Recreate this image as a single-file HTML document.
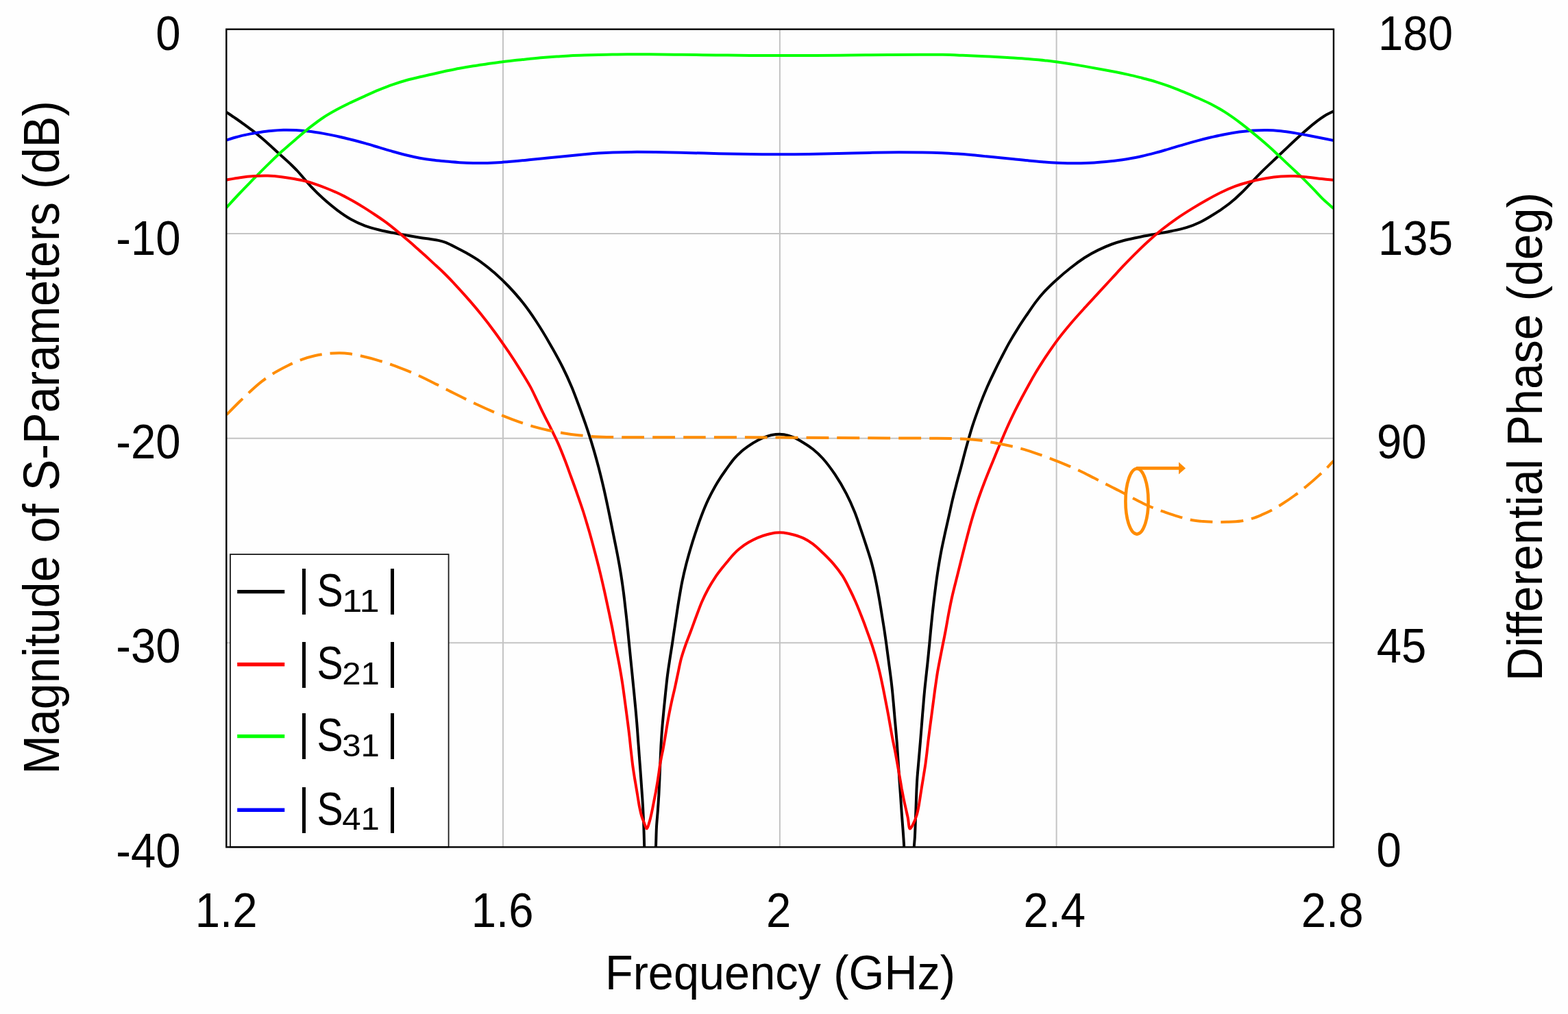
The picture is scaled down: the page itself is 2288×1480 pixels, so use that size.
<!DOCTYPE html><html><head><meta charset="utf-8"><title>S-Parameters</title><style>html,body{margin:0;padding:0;background:#fff;}svg{display:block;}</style></head><body>
<svg width="2288" height="1480" viewBox="0 0 2288 1480">
<rect x="0" y="0" width="2288" height="1480" fill="#fefefe"/>
<defs><clipPath id="pc"><rect x="330.3" y="42.7" width="1615.7" height="1193.7"/></clipPath></defs>
<path d="M734.0,42.7V1236.4M1137.9,42.7V1236.4M1541.6,42.7V1236.4M330.3,341.0H1946.0M330.3,639.7H1946.0M330.3,938.3H1946.0" stroke="#c4c4c4" stroke-width="2" fill="none"/>
<rect x="336" y="809.1" width="318.6" height="427.3" fill="#fff" stroke="#1a1a1a" stroke-width="1.8"/>
<g clip-path="url(#pc)" fill="none" stroke-width="4" stroke-linejoin="round">
<path d="M330.0,163.4 C332.2,164.9 339.0,169.4 343.5,172.5 C348.0,175.6 352.5,178.8 357.0,182.1 C361.5,185.4 366.0,188.6 370.5,192.1 C375.1,195.7 379.6,199.5 384.0,203.3 C388.6,207.2 393.0,211.4 397.6,215.4 C402.1,219.5 406.6,223.7 411.0,227.7 C415.3,231.5 419.6,235.3 423.6,239.1 C427.2,242.6 430.7,246.0 434.0,249.5 C437.2,253.0 439.9,256.3 443.1,260.0 C446.8,264.1 450.3,268.6 454.6,273.2 C459.7,278.6 465.8,284.6 471.9,290.1 C478.3,295.8 485.3,301.7 492.2,306.8 C498.8,311.7 505.5,316.4 512.4,320.2 C519.0,323.9 525.8,327.0 532.7,329.6 C539.4,332.1 546.2,333.8 553.0,335.5 C559.7,337.2 566.5,338.4 573.3,339.8 C580.2,341.1 587.4,342.4 594.2,343.6 C600.9,344.8 607.7,346.0 613.7,347.0 C618.9,347.8 623.7,348.4 628.2,349.1 C632.3,349.7 636.0,350.1 639.6,350.9 C643.1,351.6 646.4,352.5 649.5,353.6 C652.6,354.7 655.3,356.2 658.4,357.6 C661.7,359.3 665.1,361.1 668.8,363.0 C673.2,365.3 678.1,367.8 683.1,370.7 C688.9,374.1 695.4,377.9 701.6,382.3 C708.4,387.1 715.3,392.7 721.9,398.5 C728.8,404.6 735.6,411.1 742.2,418.0 C749.1,425.3 755.9,432.9 762.4,441.1 C769.4,449.9 776.1,459.5 782.7,469.5 C789.7,480.1 796.6,491.7 803.0,502.9 C809.3,513.9 815.6,525.2 821.0,536.0 C826.1,546.1 830.5,555.9 834.6,565.7 C838.5,575.2 841.9,584.6 845.4,594.0 C848.8,603.3 852.1,612.3 855.3,621.7 C858.5,631.2 861.7,640.8 864.6,650.6 C867.7,660.7 870.6,671.3 873.3,681.6 C876.0,691.9 878.5,702.3 880.9,712.5 C883.2,722.5 885.3,732.4 887.4,742.4 C889.5,752.4 891.5,762.3 893.5,772.3 C895.5,782.4 897.6,792.6 899.6,802.7 C901.6,812.8 903.5,822.8 905.2,833.1 C907.0,843.6 908.5,854.5 909.9,865.0 C911.2,875.4 912.4,886.3 913.5,896.0 C914.5,904.5 915.3,912.5 916.1,920.3 C916.8,927.3 917.4,933.8 918.1,940.5 C918.8,947.3 919.4,954.0 920.1,960.8 C920.8,967.6 921.5,974.3 922.2,981.1 C922.9,987.9 923.5,994.6 924.2,1001.4 C924.9,1008.1 925.6,1014.9 926.2,1021.6 C926.9,1028.4 927.5,1035.1 928.1,1041.9 C928.7,1048.7 929.3,1055.4 929.8,1062.2 C930.3,1069.1 930.8,1076.0 931.3,1083.0 C931.9,1090.2 932.4,1097.3 932.9,1104.6 C933.5,1111.9 934.0,1119.2 934.6,1126.8 C935.2,1134.6 935.8,1142.7 936.3,1150.8 C936.9,1159.1 937.5,1167.7 938.0,1176.1 C938.4,1184.6 938.8,1192.4 939.2,1201.5 C939.6,1212.1 939.9,1225.5 940.2,1236.0 C940.5,1244.7 937.3,1256.5 941.0,1260.0 C943.9,1262.8 953.1,1262.8 956.0,1260.0 C959.7,1256.5 956.7,1244.4 957.0,1236.0 C957.4,1226.7 957.5,1215.8 958.0,1206.5 C958.5,1198.1 959.3,1190.4 959.9,1182.5 C960.4,1174.8 960.9,1167.4 961.4,1159.7 C961.8,1151.8 962.2,1143.7 962.5,1135.6 C962.8,1127.6 963.1,1119.5 963.5,1111.5 C963.8,1103.7 964.1,1096.0 964.5,1088.1 C965.0,1080.2 965.5,1071.9 966.1,1064.1 C966.7,1056.5 967.4,1049.1 968.1,1041.9 C968.7,1035.0 969.4,1028.4 970.1,1021.6 C970.8,1014.9 971.4,1008.1 972.2,1001.4 C972.9,994.6 973.6,987.9 974.6,981.1 C975.5,974.3 976.6,967.6 977.6,960.8 C978.6,954.0 979.8,947.3 980.8,940.5 C981.8,933.8 982.8,927.1 983.8,920.3 C984.9,913.1 986.0,906.0 987.1,898.5 C988.3,890.6 989.5,882.4 990.9,874.2 C992.3,865.8 993.7,857.2 995.4,848.8 C997.1,840.6 999.0,832.4 1001.0,824.5 C1002.9,817.0 1004.9,810.0 1007.0,802.7 C1009.2,795.2 1011.5,787.7 1014.1,779.9 C1016.9,771.4 1020.0,762.1 1023.3,753.5 C1026.5,745.1 1030.1,736.3 1033.7,728.7 C1036.9,721.9 1040.4,715.4 1043.6,709.7 C1046.3,704.9 1048.9,700.8 1051.5,696.8 C1053.8,693.3 1056.0,690.3 1058.3,687.0 C1060.5,683.8 1062.7,680.6 1065.0,677.6 C1067.2,674.6 1069.3,671.6 1071.8,668.8 C1074.3,665.9 1077.1,663.1 1080.2,660.4 C1083.7,657.2 1087.9,654.1 1092.0,651.2 C1096.3,648.2 1101.0,645.2 1105.6,642.8 C1110.0,640.4 1114.6,638.3 1119.1,636.9 C1123.3,635.5 1127.6,634.5 1131.8,634.1 C1135.9,633.7 1139.8,633.7 1143.9,634.3 C1148.3,635.0 1152.9,636.4 1157.5,638.2 C1162.4,640.2 1167.6,643.3 1172.4,646.2 C1177.2,649.0 1181.6,651.9 1186.1,655.5 C1191.0,659.4 1195.6,663.6 1200.5,669.0 C1206.3,675.5 1212.6,683.9 1218.2,692.2 C1224.2,701.1 1230.1,711.2 1235.0,720.6 C1239.6,729.4 1243.4,738.1 1246.9,746.8 C1250.3,755.2 1252.9,763.5 1255.8,771.8 C1258.6,779.9 1261.3,788.0 1263.9,796.1 C1266.5,804.2 1269.2,812.1 1271.5,820.4 C1273.9,829.0 1276.0,837.9 1277.8,846.8 C1279.8,855.7 1281.3,864.9 1282.9,873.7 C1284.4,882.1 1285.7,890.5 1287.0,898.5 C1288.2,906.0 1289.4,913.1 1290.5,920.3 C1291.5,927.1 1292.5,933.8 1293.4,940.5 C1294.3,947.3 1295.2,954.0 1296.1,960.8 C1297.0,967.6 1297.9,974.3 1298.8,981.1 C1299.7,987.9 1300.6,994.6 1301.3,1001.4 C1302.1,1008.1 1302.7,1014.9 1303.3,1021.6 C1304.0,1028.4 1304.5,1035.1 1305.1,1041.9 C1305.6,1048.7 1306.3,1055.3 1306.9,1062.2 C1307.5,1069.4 1308.2,1076.7 1308.8,1084.3 C1309.4,1092.5 1309.9,1101.2 1310.5,1109.7 C1311.1,1118.2 1311.6,1127.0 1312.2,1135.6 C1312.8,1144.1 1313.4,1152.5 1314.0,1160.9 C1314.6,1169.4 1315.1,1177.8 1315.7,1186.3 C1316.3,1194.7 1317.0,1203.2 1317.6,1211.6 C1318.2,1219.8 1318.8,1227.9 1319.2,1236.0 C1319.6,1244.0 1316.5,1256.6 1320.0,1260.0 C1322.6,1262.5 1330.4,1262.5 1333.0,1260.0 C1336.5,1256.6 1333.4,1243.0 1333.8,1236.0 C1334.1,1230.6 1334.6,1227.2 1334.9,1221.8 C1335.3,1214.6 1335.6,1204.9 1335.9,1196.4 C1336.2,1188.0 1336.5,1179.3 1336.8,1171.1 C1337.1,1163.3 1337.3,1155.4 1337.7,1148.2 C1338.0,1142.0 1338.3,1136.2 1338.8,1130.5 C1339.2,1125.2 1339.7,1120.4 1340.1,1115.3 C1340.6,1110.0 1341.0,1104.9 1341.5,1099.4 C1342.0,1093.7 1342.5,1087.8 1343.0,1081.8 C1343.5,1075.4 1344.0,1068.8 1344.6,1062.2 C1345.1,1055.5 1345.7,1048.7 1346.2,1041.9 C1346.8,1035.1 1347.4,1028.4 1347.9,1021.6 C1348.5,1014.9 1349.1,1008.1 1349.8,1001.4 C1350.5,994.6 1351.3,987.9 1352.0,981.1 C1352.8,974.3 1353.5,967.6 1354.2,960.8 C1354.9,954.0 1355.5,947.3 1356.2,940.5 C1356.8,933.8 1357.4,927.1 1358.1,920.3 C1358.8,913.1 1359.5,906.2 1360.3,898.5 C1361.2,889.9 1362.2,880.7 1363.4,871.2 C1364.7,860.6 1366.2,848.8 1367.8,837.7 C1369.5,826.8 1371.3,815.6 1373.3,805.2 C1375.1,795.5 1377.3,786.3 1379.2,777.2 C1381.1,768.5 1383.1,760.1 1384.9,751.9 C1386.6,744.3 1388.1,737.1 1389.8,729.9 C1391.5,722.6 1393.2,715.8 1395.2,708.4 C1397.2,700.4 1399.6,692.1 1401.9,683.5 C1404.4,674.2 1406.8,664.4 1409.5,654.5 C1412.4,644.1 1415.5,633.0 1418.8,622.4 C1422.2,611.9 1426.1,601.1 1429.8,591.1 C1433.3,581.9 1436.9,573.1 1440.5,564.8 C1443.9,557.1 1447.2,550.1 1450.7,543.0 C1454.0,536.1 1457.3,529.5 1460.8,522.7 C1464.4,515.7 1468.0,508.6 1472.0,501.4 C1476.2,493.9 1481.0,486.0 1485.7,478.6 C1490.3,471.3 1495.3,464.0 1499.8,457.3 C1503.9,451.4 1507.4,446.0 1511.5,440.6 C1515.5,435.3 1519.4,430.5 1524.2,425.4 C1529.4,419.7 1535.7,413.8 1541.9,408.2 C1548.3,402.4 1555.3,396.4 1562.2,391.0 C1568.8,385.7 1575.5,380.7 1582.4,376.2 C1589.1,372.0 1595.9,368.2 1602.7,364.9 C1609.2,361.7 1615.7,358.9 1622.2,356.5 C1628.4,354.2 1634.4,352.4 1640.8,350.7 C1647.5,349.0 1654.4,347.6 1661.6,346.2 C1669.3,344.6 1677.6,343.1 1685.6,341.6 C1693.6,340.1 1701.9,338.9 1709.7,337.2 C1717.1,335.7 1724.3,334.3 1731.2,332.1 C1737.8,330.1 1744.2,327.6 1750.2,324.7 C1756.0,322.0 1761.4,318.7 1766.7,315.5 C1771.7,312.5 1776.4,309.5 1781.2,306.3 C1786.0,303.0 1790.8,299.7 1795.6,295.8 C1800.9,291.5 1806.4,286.5 1811.5,281.5 C1816.7,276.5 1821.6,271.1 1826.5,265.9 C1831.4,260.8 1835.8,256.0 1840.9,250.8 C1846.6,245.2 1852.7,239.5 1858.9,233.7 C1865.4,227.5 1872.4,220.9 1879.1,214.6 C1885.9,208.3 1892.7,201.8 1899.4,195.8 C1905.7,190.2 1912.1,184.4 1918.2,179.6 C1923.4,175.5 1928.4,171.7 1933.4,168.7 C1937.7,166.1 1943.9,163.4 1946.0,162.4" stroke="#000"/>
<path d="M330.0,204.8 C332.2,204.1 339.0,201.8 343.5,200.5 C348.0,199.3 352.5,198.1 357.0,197.1 C361.5,196.1 366.0,195.2 370.5,194.5 C375.0,193.7 379.5,193.0 384.0,192.3 C388.6,191.7 393.2,191.1 398.0,190.7 C403.0,190.3 408.2,190.0 413.6,189.8 C419.4,189.7 425.6,189.8 431.8,190.1 C438.2,190.4 445.0,191.0 451.6,191.8 C458.4,192.5 465.2,193.7 471.9,194.9 C478.7,196.1 485.4,197.4 492.2,198.9 C498.9,200.4 505.7,201.9 512.4,203.7 C519.2,205.4 526.0,207.3 532.7,209.2 C539.5,211.1 546.2,213.2 553.0,215.2 C559.8,217.2 566.5,219.3 573.3,221.2 C579.9,223.0 586.7,224.9 593.3,226.5 C599.7,228.1 606.1,229.5 612.5,230.7 C618.8,231.8 625.0,232.7 631.3,233.5 C637.6,234.3 644.0,234.9 650.5,235.6 C657.1,236.2 663.8,236.7 670.5,237.2 C677.3,237.6 684.0,237.9 690.8,238.0 C697.6,238.1 704.3,238.1 711.1,237.9 C717.9,237.7 724.6,237.4 731.4,236.9 C738.1,236.5 744.9,235.9 751.6,235.3 C758.4,234.7 765.1,234.0 771.9,233.3 C778.7,232.6 785.4,232.0 792.2,231.3 C798.9,230.6 805.7,229.9 812.4,229.3 C819.2,228.6 825.9,227.9 832.7,227.2 C839.5,226.6 846.2,225.9 853.0,225.3 C859.8,224.7 866.4,224.1 873.3,223.6 C880.3,223.1 887.1,222.7 894.5,222.4 C902.8,222.1 911.3,221.9 920.6,221.9 C931.6,221.8 943.6,221.9 956.2,222.1 C970.2,222.3 985.7,222.7 1000.9,223.0 C1016.7,223.3 1033.3,223.8 1049.2,224.2 C1064.9,224.5 1080.6,224.8 1095.8,225.0 C1110.3,225.2 1124.4,225.3 1138.6,225.2 C1152.6,225.2 1166.1,225.1 1180.1,224.9 C1194.5,224.6 1209.0,224.3 1223.6,223.9 C1238.6,223.6 1254.2,223.2 1269.1,222.9 C1283.5,222.6 1298.0,222.3 1311.4,222.2 C1323.5,222.2 1335.2,222.2 1346.1,222.4 C1356.0,222.5 1365.3,222.8 1374.3,223.2 C1382.5,223.6 1390.3,224.1 1397.9,224.6 C1405.2,225.1 1412.0,225.7 1419.0,226.3 C1425.8,226.9 1432.5,227.6 1439.3,228.3 C1446.0,228.9 1452.8,229.6 1459.5,230.3 C1466.3,231.0 1473.0,231.6 1479.8,232.3 C1486.6,233.0 1493.3,233.7 1500.1,234.3 C1507.0,235.0 1513.8,235.7 1520.9,236.2 C1528.4,236.8 1536.1,237.3 1544.0,237.7 C1552.4,238.0 1561.3,238.2 1570.0,238.2 C1578.8,238.1 1587.7,237.9 1596.4,237.4 C1604.7,237.0 1612.9,236.2 1621.0,235.3 C1628.8,234.5 1636.5,233.4 1644.1,232.2 C1651.5,230.9 1658.8,229.6 1665.9,228.0 C1672.9,226.5 1679.7,224.7 1686.5,222.9 C1693.3,221.1 1700.1,219.0 1706.8,217.1 C1713.6,215.1 1720.3,213.0 1727.1,211.1 C1733.8,209.1 1740.6,207.2 1747.4,205.4 C1754.1,203.6 1760.9,201.9 1767.6,200.3 C1774.4,198.8 1781.1,197.3 1787.9,196.0 C1794.6,194.7 1801.4,193.5 1808.2,192.6 C1814.9,191.7 1821.7,191.0 1828.4,190.5 C1835.2,190.1 1841.9,189.9 1848.7,190.0 C1855.5,190.1 1862.2,190.6 1869.0,191.2 C1875.8,191.9 1882.5,193.0 1889.3,194.1 C1896.0,195.2 1902.7,196.5 1909.3,197.8 C1915.7,199.0 1922.0,200.3 1928.3,201.5 C1934.3,202.7 1943.0,204.4 1946.0,205.0" stroke="#0000ff"/>
<path d="M330.0,303.3 C333.4,299.7 343.5,288.6 350.3,281.5 C357.0,274.4 363.8,267.6 370.5,260.7 C377.3,253.9 384.0,247.0 390.8,240.4 C397.5,233.8 404.3,227.3 411.1,221.1 C417.8,215.0 424.6,209.2 431.4,203.4 C438.1,197.7 444.8,191.8 451.6,186.4 C458.3,181.2 465.0,176.0 471.9,171.5 C478.5,167.1 485.4,163.3 492.2,159.6 C498.9,155.9 505.6,152.7 512.4,149.4 C519.2,146.2 525.9,143.1 532.7,140.1 C539.4,137.1 546.2,134.0 553.0,131.2 C559.7,128.4 566.5,125.7 573.3,123.4 C580.0,121.0 586.8,118.9 593.5,117.0 C600.0,115.2 606.4,113.7 612.8,112.2 C618.9,110.8 624.9,109.6 631.0,108.2 C637.4,106.8 643.8,105.3 650.3,103.8 C656.9,102.4 663.8,100.9 670.5,99.7 C677.3,98.4 684.0,97.3 690.8,96.3 C697.6,95.2 704.3,94.3 711.1,93.3 C717.9,92.4 724.6,91.4 731.4,90.6 C738.1,89.7 744.9,88.9 751.6,88.1 C758.4,87.3 765.1,86.7 771.9,86.0 C778.7,85.3 785.4,84.6 792.2,84.0 C798.9,83.4 805.7,82.9 812.4,82.5 C819.2,82.0 825.9,81.7 832.7,81.3 C839.5,81.0 846.2,80.8 853.0,80.6 C859.8,80.4 866.5,80.2 873.3,80.0 C880.0,79.8 886.7,79.6 893.5,79.5 C900.6,79.4 907.3,79.2 915.3,79.2 C925.2,79.1 936.5,79.2 948.5,79.2 C962.7,79.3 979.2,79.6 995.0,79.8 C1011.4,80.0 1028.4,80.3 1045.0,80.4 C1061.5,80.6 1078.2,80.8 1094.5,80.9 C1110.4,81.0 1125.8,81.0 1141.5,81.0 C1157.4,81.1 1173.1,81.0 1189.5,80.9 C1206.7,80.8 1224.8,80.7 1242.5,80.5 C1260.4,80.4 1279.2,80.2 1296.5,80.0 C1312.4,79.9 1328.4,79.7 1342.5,79.7 C1354.4,79.6 1364.9,79.6 1375.5,79.8 C1385.5,80.0 1394.5,80.4 1404.5,80.8 C1415.1,81.2 1426.5,81.7 1437.5,82.2 C1448.4,82.8 1459.4,83.4 1470.0,84.0 C1480.2,84.7 1490.2,85.3 1500.0,86.1 C1509.4,86.9 1518.8,87.7 1527.5,88.6 C1535.4,89.5 1542.7,90.5 1550.0,91.5 C1556.9,92.5 1563.3,93.5 1570.0,94.6 C1576.7,95.7 1583.3,96.9 1590.0,98.1 C1596.7,99.3 1603.4,100.5 1610.0,101.7 C1616.4,102.9 1622.8,104.0 1629.0,105.2 C1635.1,106.4 1641.0,107.7 1647.1,109.1 C1653.4,110.5 1659.8,112.1 1666.3,113.7 C1672.9,115.5 1679.8,117.2 1686.5,119.3 C1693.3,121.4 1700.1,123.7 1706.8,126.2 C1713.6,128.7 1720.4,131.5 1727.1,134.2 C1733.9,137.0 1740.6,139.9 1747.4,142.8 C1754.2,145.9 1760.9,148.8 1767.6,152.2 C1774.5,155.8 1781.2,159.7 1787.9,163.9 C1794.8,168.3 1801.5,173.1 1808.2,178.1 C1815.0,183.2 1821.7,188.6 1828.4,194.1 C1835.2,199.6 1842.2,205.5 1848.7,211.3 C1855.0,216.8 1861.1,222.6 1867.0,228.0 C1872.4,233.1 1877.3,237.9 1882.7,242.9 C1888.3,248.2 1894.2,253.6 1899.9,259.1 C1905.7,264.8 1911.7,271.0 1917.2,276.6 C1922.1,281.7 1926.5,286.7 1931.3,291.4 C1936.1,295.9 1943.6,302.1 1946.0,304.3" stroke="#00ff00"/>
<path d="M330.0,262.7 C333.4,262.1 343.5,260.1 350.3,259.2 C357.0,258.2 363.8,257.4 370.5,257.0 C377.3,256.6 384.1,256.5 390.8,256.6 C397.5,256.8 404.3,257.4 410.8,258.2 C417.0,258.9 423.2,259.9 429.1,261.0 C434.6,262.0 439.9,263.0 445.2,264.3 C450.4,265.6 455.4,267.1 460.4,268.8 C465.5,270.5 470.7,272.5 475.6,274.5 C480.4,276.4 485.0,278.3 489.6,280.3 C493.9,282.3 497.9,284.2 502.2,286.4 C506.8,288.8 511.5,291.3 516.2,294.0 C521.2,296.9 526.4,300.0 531.4,303.1 C536.5,306.3 541.8,309.8 546.6,313.0 C551.1,316.0 555.6,319.0 559.6,321.8 C563.0,324.3 565.9,326.4 569.0,328.9 C572.2,331.3 575.1,333.8 578.2,336.4 C581.5,339.1 585.0,342.0 588.4,344.9 C591.8,347.8 595.1,350.6 598.5,353.5 C601.9,356.4 605.1,359.3 608.6,362.4 C612.5,365.8 616.6,369.5 620.7,373.3 C625.2,377.4 630.2,382.0 634.6,386.1 C638.9,390.0 642.7,393.4 646.8,397.5 C651.4,402.0 655.8,406.5 660.9,411.8 C666.9,418.2 673.9,425.9 680.5,433.4 C687.5,441.3 694.8,449.8 701.6,458.3 C708.5,466.9 715.3,475.7 721.9,484.7 C728.6,493.8 735.2,503.4 741.6,512.7 C747.8,521.9 754.0,531.5 759.5,540.4 C764.6,548.6 769.5,556.5 773.7,564.1 C777.4,570.9 780.2,577.2 783.4,583.8 C786.6,590.3 789.5,596.9 792.9,603.6 C796.3,610.7 800.2,617.9 803.8,625.1 C807.4,632.5 811.1,639.8 814.5,647.4 C817.9,655.1 821.0,663.0 824.1,671.0 C827.3,679.1 830.2,687.5 833.2,695.8 C836.3,704.2 839.4,712.7 842.3,721.1 C845.3,729.6 848.2,737.9 851.0,746.5 C853.8,755.3 856.4,764.2 859.1,773.3 C861.9,782.9 864.6,792.9 867.2,802.7 C869.8,812.5 872.4,822.2 874.8,832.1 C877.3,842.3 879.7,852.8 882.0,863.0 C884.2,873.1 886.5,884.0 888.5,893.2 C890.2,901.1 891.7,908.2 893.1,915.2 C894.4,921.6 895.4,927.5 896.6,933.8 C897.9,940.4 899.2,947.3 900.5,954.0 C901.8,960.8 903.2,967.5 904.4,974.3 C905.6,981.1 906.8,987.8 907.8,994.6 C908.9,1001.4 909.8,1008.1 910.7,1014.9 C911.6,1021.6 912.5,1028.4 913.4,1035.1 C914.3,1041.9 915.2,1048.6 916.1,1055.4 C917.0,1062.4 917.9,1069.5 918.7,1076.7 C919.5,1084.1 920.2,1091.8 921.1,1099.0 C921.9,1105.9 922.6,1112.7 923.5,1119.1 C924.3,1124.9 925.2,1130.2 926.0,1135.6 C926.9,1140.8 927.7,1145.7 928.6,1150.8 C929.4,1155.9 930.3,1161.0 931.1,1166.0 C931.9,1170.8 932.6,1175.7 933.6,1180.1 C934.4,1184.1 935.2,1187.9 936.3,1191.4 C937.3,1194.7 938.5,1197.6 939.8,1200.7 C941.0,1203.7 942.5,1209.6 943.8,1209.6 C945.1,1209.6 946.5,1203.3 947.6,1199.7 C948.9,1195.6 949.8,1190.9 950.9,1186.3 C952.0,1181.4 952.9,1176.2 953.9,1171.1 C954.9,1166.0 955.9,1160.9 956.9,1155.9 C957.7,1151.0 958.6,1146.1 959.4,1141.3 C960.1,1136.8 960.7,1132.4 961.4,1128.0 C962.0,1123.8 962.5,1119.6 963.1,1115.7 C963.8,1111.9 964.5,1108.2 965.2,1104.6 C965.9,1101.0 966.7,1097.8 967.4,1094.1 C968.2,1089.9 969.0,1085.4 969.8,1080.5 C970.8,1074.8 971.8,1068.4 972.8,1062.2 C973.9,1055.6 975.1,1048.6 976.4,1041.9 C977.7,1035.1 979.1,1028.4 980.6,1021.6 C982.1,1014.9 983.9,1008.1 985.3,1001.4 C986.8,994.6 988.1,987.9 989.6,981.1 C991.0,974.3 992.3,967.5 994.1,960.8 C996.0,954.0 998.3,947.3 1000.7,940.5 C1003.1,933.7 1005.9,927.1 1008.4,920.3 C1011.0,913.4 1013.4,906.4 1016.0,899.5 C1018.6,892.6 1021.1,885.5 1024.0,878.7 C1026.9,872.1 1030.1,865.6 1033.4,859.5 C1036.6,853.6 1040.0,848.0 1043.5,842.8 C1046.8,837.9 1050.3,833.4 1053.7,829.1 C1056.8,825.1 1059.9,821.5 1062.8,818.0 C1065.5,814.8 1067.8,811.8 1070.6,808.9 C1073.4,805.9 1076.4,803.0 1079.8,800.3 C1083.4,797.3 1087.7,794.3 1092.0,791.8 C1096.3,789.2 1101.0,786.8 1105.6,784.8 C1110.0,783.0 1114.6,781.5 1119.1,780.3 C1123.6,779.1 1128.3,778.0 1132.6,777.6 C1136.4,777.2 1139.5,777.2 1143.4,777.6 C1148.1,778.1 1153.9,779.4 1158.9,780.8 C1163.8,782.2 1168.6,783.7 1173.1,785.9 C1177.6,788.0 1181.8,790.7 1186.1,793.9 C1190.9,797.5 1195.6,802.1 1200.5,806.8 C1205.8,811.9 1211.6,817.7 1216.5,823.4 C1221.3,829.0 1225.6,834.7 1229.5,840.7 C1233.3,846.7 1236.4,853.1 1239.6,859.5 C1242.9,866.0 1246.1,872.9 1249.1,879.7 C1252.0,886.4 1254.7,893.2 1257.3,900.0 C1260.0,906.7 1262.5,913.5 1264.9,920.3 C1267.4,927.0 1269.8,933.8 1272.1,940.5 C1274.3,947.3 1276.4,954.0 1278.3,960.8 C1280.2,967.5 1282.0,974.3 1283.6,981.1 C1285.2,987.8 1286.6,994.6 1288.0,1001.4 C1289.4,1008.1 1290.7,1014.9 1292.0,1021.6 C1293.3,1028.4 1294.7,1035.1 1295.9,1041.9 C1297.2,1048.7 1298.3,1055.6 1299.5,1062.2 C1300.6,1068.4 1301.7,1074.8 1302.8,1080.5 C1303.8,1085.5 1304.8,1089.9 1305.7,1094.4 C1306.5,1098.6 1307.2,1102.3 1307.9,1106.5 C1308.7,1110.9 1309.6,1115.6 1310.4,1120.4 C1311.3,1125.4 1312.2,1130.5 1313.1,1135.6 C1314.0,1140.7 1314.8,1145.7 1315.7,1150.8 C1316.7,1155.9 1317.6,1161.1 1318.6,1166.0 C1319.6,1170.8 1320.6,1175.3 1321.7,1179.9 C1322.7,1184.4 1323.7,1188.7 1324.7,1193.3 C1325.8,1198.5 1326.1,1209.3 1327.8,1209.6 C1329.1,1209.9 1331.3,1204.9 1332.8,1202.0 C1334.6,1198.6 1336.1,1194.6 1337.4,1190.5 C1338.8,1186.1 1339.7,1181.0 1340.7,1176.1 C1341.6,1171.1 1342.3,1166.0 1343.1,1160.9 C1343.9,1155.8 1344.7,1150.8 1345.5,1145.7 C1346.3,1140.6 1347.2,1135.6 1348.0,1130.5 C1348.8,1125.4 1349.7,1120.4 1350.4,1115.3 C1351.1,1110.1 1351.7,1104.9 1352.4,1099.4 C1353.1,1093.7 1353.7,1087.8 1354.4,1081.8 C1355.2,1075.4 1356.0,1068.8 1356.9,1062.2 C1357.8,1055.5 1358.7,1048.7 1359.6,1041.9 C1360.5,1035.1 1361.4,1028.4 1362.3,1021.6 C1363.2,1014.9 1364.0,1008.1 1365.0,1001.4 C1366.0,994.6 1366.9,987.9 1368.0,981.1 C1369.2,974.3 1370.5,967.6 1371.8,960.8 C1373.1,954.0 1374.5,947.3 1375.8,940.5 C1377.2,933.8 1378.5,927.2 1379.8,920.3 C1381.2,913.2 1382.3,906.1 1383.7,898.5 C1385.3,890.0 1387.0,881.1 1389.1,871.7 C1391.5,861.0 1394.6,849.5 1397.5,837.8 C1400.7,825.1 1404.0,811.4 1407.4,798.3 C1410.8,785.2 1414.2,771.6 1417.8,759.2 C1421.1,747.9 1424.6,737.1 1428.0,727.0 C1431.2,717.8 1434.3,709.5 1437.6,701.0 C1440.8,692.7 1444.1,684.7 1447.5,676.4 C1451.1,667.7 1454.8,658.6 1458.5,649.8 C1462.3,640.9 1466.1,631.8 1469.9,623.3 C1473.5,615.3 1477.2,607.6 1480.8,600.2 C1484.3,593.2 1487.7,586.6 1491.2,580.0 C1494.6,573.6 1498.0,567.4 1501.4,561.2 C1504.7,555.2 1508.1,549.2 1511.5,543.5 C1514.8,537.9 1518.2,532.6 1521.6,527.3 C1525.0,522.1 1528.2,517.3 1531.8,512.1 C1535.7,506.4 1539.8,500.5 1544.5,494.4 C1549.8,487.4 1556.0,479.8 1562.2,472.5 C1568.6,464.9 1575.6,457.2 1582.4,449.7 C1589.1,442.3 1596.0,434.9 1602.7,427.6 C1609.3,420.5 1615.8,413.4 1622.2,406.5 C1628.3,399.9 1634.1,393.5 1640.0,387.2 C1645.9,381.1 1651.5,375.3 1657.5,369.4 C1663.5,363.5 1669.6,357.5 1676.0,351.8 C1682.4,346.0 1688.9,340.3 1695.8,334.8 C1702.7,329.3 1709.9,323.9 1717.3,318.8 C1724.7,313.7 1732.6,308.7 1740.1,304.1 C1747.3,299.7 1754.5,295.5 1761.6,291.5 C1768.4,287.7 1775.1,284.0 1781.9,280.7 C1788.6,277.4 1795.2,274.4 1802.2,271.8 C1809.3,269.2 1816.6,267.1 1824.0,265.2 C1831.6,263.2 1839.6,261.5 1847.2,260.2 C1854.6,258.9 1861.9,257.9 1869.0,257.4 C1875.9,256.9 1882.5,256.8 1889.3,257.0 C1896.0,257.2 1902.9,258.0 1909.5,258.7 C1916.0,259.4 1922.5,260.4 1928.8,261.1 C1934.7,261.7 1943.1,262.4 1946.0,262.7" stroke="#ff0000"/>
<path d="M330.0,605.9 C333.2,602.7 343.1,592.6 349.3,586.5 C355.0,581.0 360.2,575.9 365.8,570.8 C371.2,565.8 376.6,560.9 382.5,556.4 C388.3,551.9 394.5,547.8 400.8,543.9 C407.2,540.0 414.1,536.5 420.8,533.2 C427.2,530.1 433.5,527.2 440.1,524.8 C446.7,522.5 453.5,520.5 460.1,519.0 C466.6,517.6 473.3,516.5 479.4,515.9 C484.9,515.3 490.0,515.2 495.1,515.2 C500.1,515.3 504.7,515.6 509.9,516.3 C515.9,517.1 522.4,518.5 529.0,520.0 C536.1,521.6 543.9,523.6 551.2,525.8 C558.5,527.9 565.8,530.3 572.9,532.8 C580.0,535.3 587.4,538.3 593.9,540.9 C599.4,543.2 604.5,545.3 609.3,547.5 C613.8,549.5 617.6,551.4 621.9,553.5 C626.7,555.8 631.6,558.3 636.8,560.9 C642.3,563.7 648.1,566.8 654.1,569.8 C660.5,573.1 667.4,576.5 674.1,579.8 C680.9,583.2 687.8,586.6 694.7,589.8 C701.6,593.0 708.5,596.2 715.4,599.2 C722.2,602.1 728.9,605.0 735.9,607.7 C742.8,610.5 749.9,613.2 757.0,615.7 C764.1,618.2 771.3,620.5 778.5,622.6 C785.6,624.6 792.7,626.4 800.0,628.0 C807.3,629.6 814.8,631.0 822.3,632.2 C829.7,633.4 837.1,634.4 844.5,635.2 C851.9,636.0 858.9,636.7 866.5,637.2 C874.7,637.7 882.7,637.9 892.3,638.0 C904.4,638.3 917.9,638.3 933.5,638.3 C954.1,638.4 980.5,638.3 1005.0,638.2 C1030.8,638.2 1059.9,638.2 1084.5,638.3 C1105.8,638.3 1123.7,638.5 1144.0,638.6 C1165.3,638.7 1186.2,638.9 1209.5,639.0 C1236.1,639.2 1267.7,639.3 1295.0,639.4 C1320.2,639.5 1346.9,639.5 1367.5,639.8 C1382.8,640.0 1396.2,640.1 1407.5,640.7 C1415.7,641.1 1421.8,641.6 1428.8,642.5 C1435.8,643.4 1442.4,644.7 1449.5,646.0 C1457.0,647.3 1464.9,648.8 1472.4,650.5 C1479.8,652.1 1486.9,653.9 1494.0,655.9 C1501.1,658.0 1508.1,660.4 1515.1,662.8 C1522.1,665.3 1529.1,667.9 1536.0,670.6 C1542.9,673.2 1549.9,675.9 1556.6,678.8 C1563.4,681.6 1570.0,684.6 1576.7,687.8 C1583.4,691.0 1590.5,694.7 1596.7,697.8 C1602.1,700.6 1607.1,703.2 1611.8,705.6 C1615.9,707.7 1619.4,709.4 1623.5,711.5 C1628.1,713.8 1633.2,716.3 1638.2,719.0 C1643.5,721.7 1648.9,724.9 1654.3,727.8 C1659.6,730.5 1665.2,733.4 1670.1,735.8 C1674.4,737.8 1678.1,739.3 1682.4,741.1 C1687.1,743.0 1692.0,744.8 1697.5,746.7 C1704.1,749.0 1712.2,751.9 1719.2,753.9 C1725.5,755.8 1731.7,757.5 1737.5,758.7 C1742.8,759.7 1747.5,760.2 1752.7,760.8 C1758.3,761.3 1764.0,761.5 1770.0,761.7 C1776.5,761.9 1783.7,762.0 1790.5,761.8 C1797.2,761.6 1804.3,761.5 1810.7,760.6 C1816.7,759.7 1822.3,758.3 1827.7,756.6 C1833.0,755.0 1838.1,752.7 1842.8,750.7 C1847.3,748.8 1851.1,747.1 1855.4,744.8 C1860.3,742.2 1865.3,739.1 1870.6,735.8 C1876.5,732.0 1883.3,727.4 1889.3,723.0 C1895.3,718.7 1901.0,714.1 1906.6,709.5 C1912.3,704.9 1918.1,699.8 1923.2,695.1 C1927.9,690.9 1932.3,686.8 1936.2,682.9 C1939.8,679.3 1944.4,674.2 1946.0,672.5" stroke="#ff8c00" stroke-dasharray="32.8 12.06" stroke-dashoffset="-1.1"/>
</g>
<rect x="330.3" y="42.7" width="1615.7" height="1193.7" fill="none" stroke="#000" stroke-width="2.4"/>
<g fill="none" stroke="#ff8c00" stroke-width="4.6">
<ellipse cx="1659" cy="731.8" rx="16.6" ry="47.8"/>
<path d="M1658,683.4H1722"/>
</g>
<path d="M1720,674.6L1730,683.4L1720,692.2Z" fill="#ff8c00"/>
<g font-family="Liberation Sans, Arial, sans-serif" font-size="67.0" fill="#000">
<text transform="translate(263.60,73.20) scale(0.975,1.060)" text-anchor="end">0</text>
<text transform="translate(263.60,371.73) scale(0.975,1.060)" text-anchor="end">-10</text>
<text transform="translate(263.60,669.05) scale(0.975,1.060)" text-anchor="end">-20</text>
<text transform="translate(263.60,967.38) scale(0.975,1.060)" text-anchor="end">-30</text>
<text transform="translate(263.60,1265.70) scale(0.975,1.060)" text-anchor="end">-40</text>
<text transform="translate(2011.00,73.00) scale(0.975,1.060)" text-anchor="start">180</text>
<text transform="translate(2011.00,371.73) scale(0.975,1.060)" text-anchor="start">135</text>
<text transform="translate(2009.00,669.05) scale(0.975,1.060)" text-anchor="start">90</text>
<text transform="translate(2008.70,966.98) scale(0.975,1.060)" text-anchor="start">45</text>
<text transform="translate(2008.40,1264.90) scale(0.975,1.060)" text-anchor="start">0</text>
<text transform="translate(330.20,1353.20) scale(0.975,1.060)" text-anchor="middle">1.2</text>
<text transform="translate(733.10,1353.00) scale(0.975,1.060)" text-anchor="middle">1.6</text>
<text transform="translate(1136.10,1353.00) scale(0.975,1.060)" text-anchor="middle">2</text>
<text transform="translate(1538.80,1353.00) scale(0.975,1.060)" text-anchor="middle">2.4</text>
<text transform="translate(1944.10,1353.00) scale(0.975,1.060)" text-anchor="middle">2.8</text>
</g>
<text font-family="Liberation Sans, Arial, sans-serif" font-size="67" transform="translate(1138.5,1443.6) scale(0.995,1.06)" text-anchor="middle">Frequency (GHz)</text>
<text font-family="Liberation Sans, Arial, sans-serif" font-size="68.3" transform="translate(85.7,638.6) rotate(-90) scale(1,1.081)" text-anchor="middle">Magnitude of S-Parameters (dB)</text>
<text font-family="Liberation Sans, Arial, sans-serif" font-size="68" transform="translate(2250.4,637.4) rotate(-90) scale(1,1.074)" text-anchor="middle">Differential Phase (deg)</text>
<path d="M346.2,863.6H415.3" stroke="#000" stroke-width="5.4"/>
<g font-family="Liberation Sans, Arial, sans-serif" fill="#000">
<text x="0" y="0" font-size="72.5" transform="translate(435.6,882.3) scale(0.85,1)">|</text>
<text x="0" y="0" font-size="72.5" transform="translate(564.6,882.3) scale(0.85,1)">|</text>
<text x="0" y="0" font-size="68" transform="translate(462.5,884.9) scale(0.84,1)">S</text>
<text x="0" y="0" font-size="45.5" transform="translate(499.2,892.6) scale(1.150,1)">11</text>
</g>
<path d="M346.2,969.8H415.3" stroke="#ff0000" stroke-width="5.4"/>
<g font-family="Liberation Sans, Arial, sans-serif" fill="#000">
<text x="0" y="0" font-size="72.5" transform="translate(435.6,988.5) scale(0.85,1)">|</text>
<text x="0" y="0" font-size="72.5" transform="translate(564.6,988.5) scale(0.85,1)">|</text>
<text x="0" y="0" font-size="68" transform="translate(462.5,991.1) scale(0.84,1)">S</text>
<text x="0" y="0" font-size="45.5" transform="translate(499.2,998.8) scale(1.080,1)">21</text>
</g>
<path d="M346.2,1074.6H415.3" stroke="#00ff00" stroke-width="5.4"/>
<g font-family="Liberation Sans, Arial, sans-serif" fill="#000">
<text x="0" y="0" font-size="72.5" transform="translate(435.6,1093.3) scale(0.85,1)">|</text>
<text x="0" y="0" font-size="72.5" transform="translate(564.6,1093.3) scale(0.85,1)">|</text>
<text x="0" y="0" font-size="68" transform="translate(462.5,1095.9) scale(0.84,1)">S</text>
<text x="0" y="0" font-size="45.5" transform="translate(499.2,1103.6) scale(1.080,1)">31</text>
</g>
<path d="M346.2,1182.2H415.3" stroke="#0000ff" stroke-width="5.4"/>
<g font-family="Liberation Sans, Arial, sans-serif" fill="#000">
<text x="0" y="0" font-size="72.5" transform="translate(435.6,1200.9) scale(0.85,1)">|</text>
<text x="0" y="0" font-size="72.5" transform="translate(564.6,1200.9) scale(0.85,1)">|</text>
<text x="0" y="0" font-size="68" transform="translate(462.5,1203.5) scale(0.84,1)">S</text>
<text x="0" y="0" font-size="45.5" transform="translate(499.2,1211.2) scale(1.080,1)">41</text>
</g>
</svg></body></html>
